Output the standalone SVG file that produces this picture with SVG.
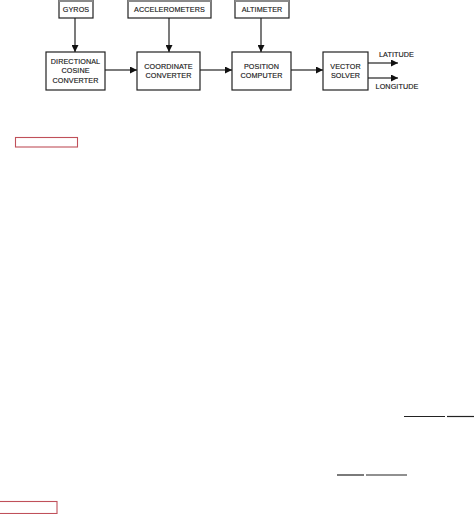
<svg xmlns="http://www.w3.org/2000/svg" width="474" height="514" viewBox="0 0 474 514">
<style>
.box{fill:#fff;stroke:#222;stroke-width:1.2}
.band{fill:#8a8a8a}
.t{font-family:"Liberation Sans",Arial,sans-serif;font-size:7.2px;letter-spacing:0.1px;fill:#1a1a1a;stroke:#1a1a1a;stroke-width:0.15;text-anchor:middle}
.ln{stroke:#222;stroke-width:1.2;fill:none}
.red{fill:none;stroke:#c0505a;stroke-width:1.1}
</style>
<defs>
<marker id="ah" viewBox="0 0 10 10" refX="10" refY="5" markerWidth="7" markerHeight="7" markerUnits="userSpaceOnUse" orient="auto">
<path d="M0,0 L10,5 L0,10 Z" fill="#111"/>
</marker>
</defs>
<rect width="474" height="514" fill="#fff"/>
<g id="gyros">
<rect class="box" x="59" y="-1" width="34" height="19"/>
<rect class="band" x="59" y="0" width="34" height="2"/>
<text class="t" x="76" y="12">GYROS</text>
</g>
<g id="accelerometers">
<rect class="box" x="128" y="-1" width="83" height="19"/>
<rect class="band" x="128" y="0" width="83" height="2"/>
<text class="t" x="169.5" y="12">ACCELEROMETERS</text>
</g>
<g id="altimeter">
<rect class="box" x="235" y="-1" width="54" height="19"/>
<rect class="band" x="235" y="0" width="54" height="2"/>
<text class="t" x="262" y="12">ALTIMETER</text>
</g>
<g id="dcc">
<rect class="box" x="46" y="52" width="59" height="38"/>
<text class="t" x="75.5" y="64">DIRECTIONAL</text>
<text class="t" x="75.5" y="73">COSINE</text>
<text class="t" x="75.5" y="82.5">CONVERTER</text>
</g>
<g id="cc">
<rect class="box" x="137" y="52" width="63" height="38"/>
<text class="t" x="168.5" y="68.5">COORDINATE</text>
<text class="t" x="168.5" y="78">CONVERTER</text>
</g>
<g id="pc">
<rect class="box" x="232" y="52" width="59" height="38"/>
<text class="t" x="261.5" y="68.5">POSITION</text>
<text class="t" x="261.5" y="78">COMPUTER</text>
</g>
<g id="vs">
<rect class="box" x="323" y="52" width="45" height="38"/>
<text class="t" x="345.5" y="68.5">VECTOR</text>
<text class="t" x="345.5" y="78">SOLVER</text>
</g>
<g id="connectors">
<line class="ln" x1="75" y1="18" x2="75" y2="52" marker-end="url(#ah)"/>
<line class="ln" x1="169" y1="18" x2="169" y2="52" marker-end="url(#ah)"/>
<line class="ln" x1="261" y1="18" x2="261" y2="52" marker-end="url(#ah)"/>
<line class="ln" x1="105" y1="70" x2="137" y2="70" marker-end="url(#ah)"/>
<line class="ln" x1="200" y1="70" x2="232" y2="70" marker-end="url(#ah)"/>
<line class="ln" x1="291" y1="70" x2="323" y2="70" marker-end="url(#ah)"/>
<line class="ln" x1="368" y1="63" x2="398" y2="63" marker-end="url(#ah)"/>
<line class="ln" x1="368" y1="78" x2="398" y2="78" marker-end="url(#ah)"/>
</g>
<text class="t" x="396.5" y="57">LATITUDE</text>
<text class="t" x="397" y="89">LONGITUDE</text>
<rect class="red" x="15.5" y="137.5" width="62" height="9.5"/>
<rect class="red" x="-1" y="501.5" width="58" height="12"/>
<g class="ln">
<line x1="404" y1="416.5" x2="445" y2="416.5"/>
<line x1="447" y1="416.5" x2="474" y2="416.5"/>
<line x1="337" y1="475" x2="364" y2="475"/>
<line x1="366" y1="475" x2="407" y2="475"/>
</g>
</svg>
